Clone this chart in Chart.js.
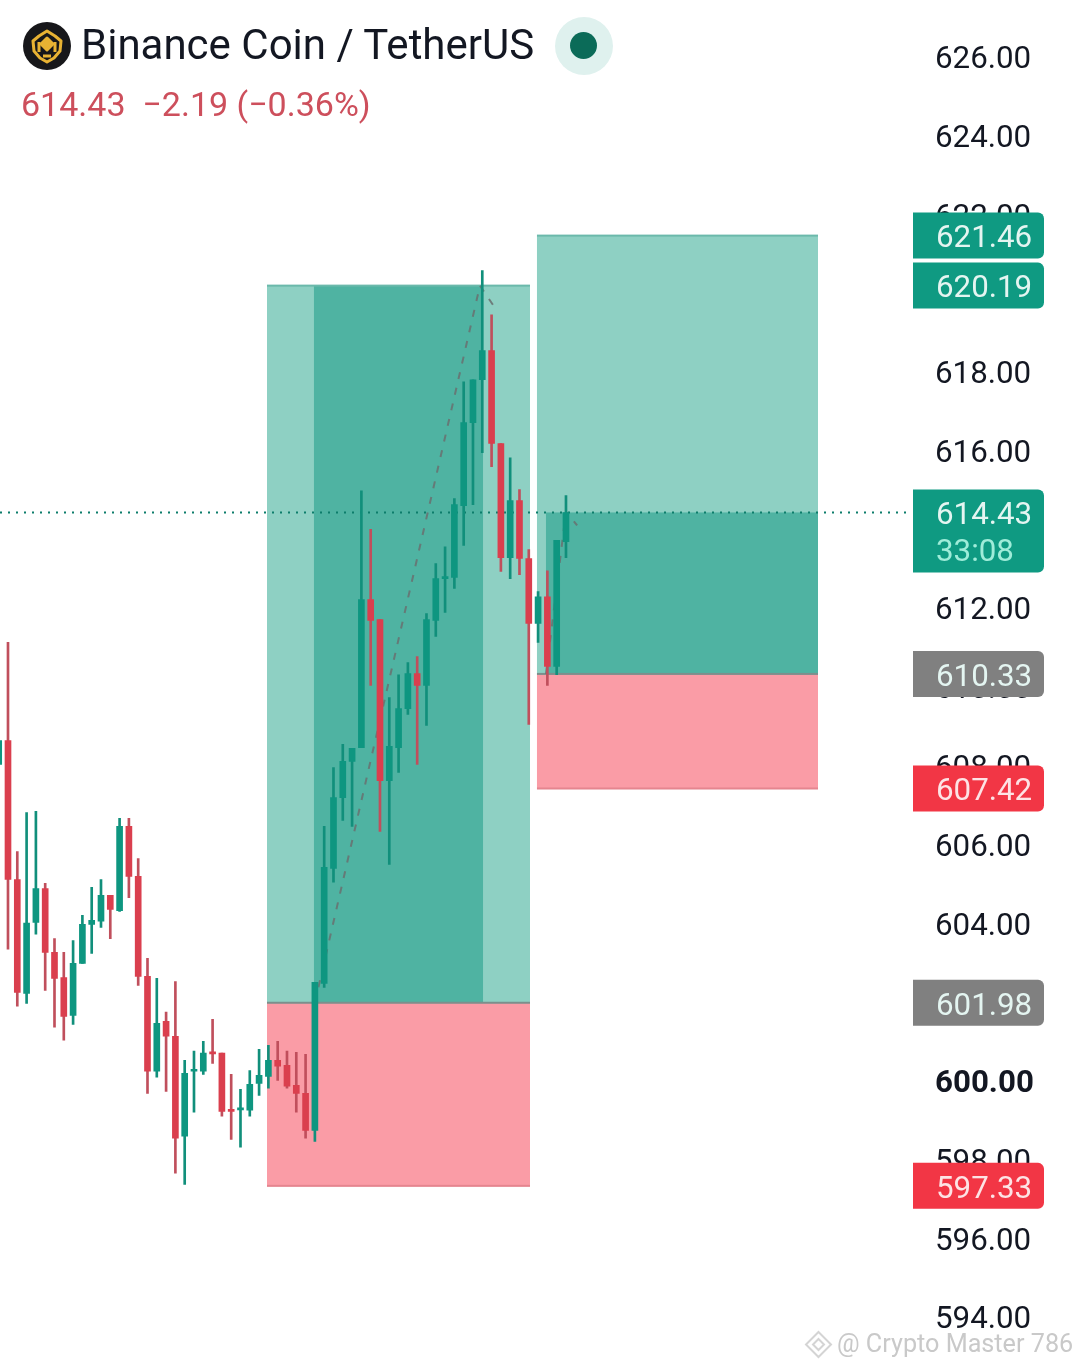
<!DOCTYPE html>
<html lang="en">
<head>
    <meta charset="UTF-8">
    <title>Binance Coin / TetherUS</title>
    <script src="https://cdn.jsdelivr.net/npm/chart.js@4/dist/chart.umd.min.js"></script>
    <style>
        html, body { margin: 0; padding: 0; background: #fff; }
        body { width: 1080px; height: 1368px; position: relative; overflow: hidden; font-family: Roboto, sans-serif; }
        #wrap { position: absolute; left: 0; top: 0; width: 1080px; height: 1368px; }
        .abs { position: absolute; white-space: pre; }
        #title { left: 81px; top: 21px; font-size: 42px; line-height: 48px; color: #131722; }
        #quote { left: 21px; top: 84px; font-size: 34px; line-height: 40px; color: #cd4f5c; }
        #mark { left: 837px; top: 1329px; font-size: 25.2px; line-height: 30px; color: #c9c9c9; }
        #status { left: 555px; top: 17px; width: 58px; height: 58px; border-radius: 50%; background: #dff1ee; }
        #status div { position: absolute; left: 15px; top: 15px; width: 27px; height: 27px; border-radius: 50%; background: #0b6b58; }
    </style>
</head>
<body>
    <div id="wrap"><canvas id="chart" width="1080" height="1368"></canvas></div>

    <svg class="abs" style="left:23px;top:22px" width="48" height="48" viewBox="0 0 48 48">
        <circle cx="24" cy="24" r="24" fill="#17171a"/>
        <g fill="none" stroke="#e8b233" stroke-width="3" stroke-linejoin="round">
            <path d="M24 9 L32 14 L38 19 L37 29 L31 36 L24 40 L17 36 L11 29 L10 19 L16 14 Z"/>
            <path d="M24 16 L30 22 L24 28 L18 22 Z" fill="#e8b233"/>
            <path d="M16 20 L16 30 M32 20 L32 30 M20 34 L28 34"/>
        </g>
    </svg>
    <div id="title" class="abs">Binance Coin / TetherUS</div>
    <div id="status" class="abs"><div></div></div>
    <div id="quote" class="abs">614.43  −2.19 (−0.36%)</div>

    <svg class="abs" style="left:804px;top:1330px" width="29" height="29" viewBox="0 0 29 29">
        <g fill="none" stroke="#d4d4d4" stroke-width="2">
            <path d="M14.5 2 L27 14.5 L14.5 27 L2 14.5 Z"/>
            <path d="M14.5 9 L20 14.5 L14.5 20 L9 14.5 Z"/>
        </g>
    </svg>
    <div id="mark" class="abs">@ Crypto Master 786</div>

    <script>
        // candles, first one sits just past the left edge
        const opens = [608.03, 608.64, 605.11, 602.22, 604.02, 604.88, 603.26, 602.62, 601.66, 602.98, 603.97, 604.05, 604.71, 604.32, 606.46, 605.19, 602.65, 600.24, 601.51, 601.13, 598.59, 600.24, 600.24, 600.72, 600.70, 599.25, 599.26, 599.25, 599.93, 600.11, 600.52, 600.39, 599.88, 599.68, 598.74, 602.47, 605.39, 607.19, 608.11, 608.46, 612.22, 611.71, 607.62, 608.46, 609.45, 610.34, 610.04, 611.69, 612.75, 612.78, 614.60, 616.71, 617.80, 618.54, 616.18, 613.28, 614.73, 613.26, 611.61, 612.29, 610.52, 613.69];
        const highs = [608.64, 611.13, 605.82, 606.81, 606.84, 605.01, 603.61, 603.26, 603.56, 604.20, 604.91, 605.11, 604.71, 606.66, 606.66, 605.64, 603.11, 602.60, 601.74, 602.52, 600.52, 600.75, 601.00, 601.56, 600.70, 600.16, 599.78, 600.26, 600.80, 600.90, 601.00, 600.75, 600.72, 600.67, 602.50, 606.46, 607.95, 608.54, 608.44, 614.98, 614.00, 611.71, 609.73, 610.31, 610.62, 610.77, 611.86, 613.13, 613.56, 614.78, 617.75, 617.80, 620.57, 619.45, 616.18, 615.82, 615.01, 613.49, 612.42, 612.95, 613.72, 614.86];
        const lows = [608.03, 603.34, 601.89, 601.96, 603.72, 602.29, 601.36, 601.03, 601.43, 602.98, 603.23, 603.89, 603.61, 604.30, 604.65, 602.42, 599.68, 600.09, 599.73, 597.65, 597.37, 599.20, 600.16, 600.44, 599.10, 598.51, 598.31, 599.10, 599.63, 599.81, 600.01, 599.81, 599.20, 598.54, 598.46, 602.37, 605.04, 606.61, 606.46, 608.46, 610.04, 606.33, 605.49, 607.83, 609.30, 608.03, 609.02, 611.28, 611.89, 612.50, 613.59, 614.63, 615.95, 615.59, 612.93, 612.75, 612.85, 609.05, 611.13, 610.04, 610.31, 613.28];
        const closes = [608.64, 605.11, 602.24, 604.00, 604.88, 603.26, 602.60, 601.63, 602.98, 603.97, 604.07, 604.71, 604.35, 606.46, 605.19, 602.65, 600.24, 601.46, 601.13, 598.54, 600.19, 600.26, 600.70, 600.68, 599.22, 599.22, 599.29, 599.91, 600.14, 600.52, 600.37, 599.86, 599.68, 598.74, 602.50, 605.42, 607.19, 608.11, 608.44, 612.22, 611.69, 607.62, 608.49, 609.45, 610.34, 610.04, 611.71, 612.75, 612.80, 614.63, 616.71, 617.80, 618.54, 616.18, 613.28, 614.73, 613.26, 611.61, 612.29, 610.52, 613.72, 614.43];

        const yTicks = [626, 624, 622, 620, 618, 616, 614, 612, 610, 608, 606, 604, 602, 600, 598, 596, 594];
        const lastPrice = 614.43;
        // price range of the axis, the scale keeps some room above and below for its labels
        const yMax = 626.458;
        const yMin = 593.69;

        // position tools: bar positions (from, to) and prices (top, entry, bottom)
        const longA = { x: [27.85, 56.13], darkX: [32.9, 51.08], top: 620.19, entry: 601.98, stop: 597.33, darkTop: 620.19, darkBottom: 601.98 };
        const longB = { x: [56.88, 87.1], darkX: [57.85, 87.1], top: 621.46, entry: 610.33, stop: 607.42, darkTop: 614.43, darkBottom: 610.33 };

        const swingX = [33, 50.75, 52.15];
        const swingY = [601.98, 620.19, 619.7];
        const swing2X = [57.85, 60, 61.2];
        const swing2Y = [610.33, 614.45, 614.1];

        const tagPrices = [621.46, 620.19, 614.43, 610.33, 607.42, 601.98, 597.33];
        const tagColors = ['#0f9a82', '#0f9a82', '#0f9a82', '#808080', '#f23645', '#808080', '#f23645'];
        const countdown = '33:08';

        const UP = '#0e9680';
        const DOWN = '#da3f4e';
        const UP_WICK = '#118f7b';
        const DOWN_WICK = '#c04f5c';

        const candleColor = opens.map((o, i) => closes[i] >= o ? UP : DOWN);
        const wickColor = opens.map((o, i) => closes[i] >= o ? UP_WICK : DOWN_WICK);

        const zones = {
            id: 'zones',
            beforeDatasetsDraw(chart) {
                const { ctx, scales: { x, y } } = chart;
                [longA, longB].forEach(z => {
                    const left = x.getPixelForValue(z.x[0]);
                    const right = x.getPixelForValue(z.x[1]);
                    const top = y.getPixelForValue(z.top);
                    const mid = y.getPixelForValue(z.entry);
                    const bottom = y.getPixelForValue(z.stop);
                    ctx.fillStyle = '#8ed0c3';
                    ctx.fillRect(left, top, right - left, mid - top);
                    ctx.fillStyle = '#fa9ca6';
                    ctx.fillRect(left, mid, right - left, bottom - mid);
                    const dl = x.getPixelForValue(z.darkX[0]);
                    const dr = x.getPixelForValue(z.darkX[1]);
                    const dt = y.getPixelForValue(z.darkTop);
                    const db = y.getPixelForValue(z.darkBottom);
                    ctx.fillStyle = '#4fb3a2';
                    ctx.fillRect(dl, dt, dr - dl, db - dt);
                    // edges
                    ctx.fillStyle = '#6bb9ab';
                    ctx.fillRect(left, top - 1, right - left, 2);
                    ctx.fillStyle = '#7b8f8c';
                    ctx.fillRect(left, mid - 1, right - left, 2);
                    ctx.fillStyle = '#e5858f';
                    ctx.fillRect(left, bottom - 1, right - left, 2);
                });
            }
        };

        const priceTags = {
            id: 'priceTags',
            afterDraw(chart) {
                const { ctx, scales: { y } } = chart;
                ctx.save();
                ctx.textBaseline = 'middle';
                ctx.textAlign = 'left';
                ctx.font = '31.3px Roboto';
                tagPrices.forEach((p, i) => {
                    const yc = y.getPixelForValue(p);
                    const isLast = p === lastPrice;
                    const h = isLast ? 83 : 46;
                    const top = yc - 23;
                    ctx.fillStyle = tagColors[i];
                    ctx.beginPath();
                    ctx.roundRect(913, top, 131, h, [0, 6, 6, 0]);
                    ctx.fill();
                    ctx.fillStyle = tagColors[i] === '#f23645' ? '#fde3e5' : '#e4f5f1';
                    ctx.fillText(p.toFixed(2), 936, yc + 4);
                    if (isLast) {
                        ctx.fillStyle = '#9fecd9';
                        ctx.fillText(countdown, 936, yc + 41);
                    }
                });
                ctx.restore();
            }
        };

        const ids = opens.map((_, i) => i - 1);

        new Chart(document.getElementById('chart'), {
            data: {
                datasets: [
                    {
                        type: 'bar',
                        label: 'body',
                        order: 1,
                        data: ids.map((x, i) => ({ x, y: [opens[i], closes[i]] })),
                        backgroundColor: candleColor,
                        barThickness: 6,
                        minBarLength: 2,
                        grouped: false
                    },
                    {
                        type: 'bar',
                        label: 'wick',
                        order: 2,
                        data: ids.map((x, i) => ({ x, y: [lows[i], highs[i]] })),
                        backgroundColor: wickColor,
                        barThickness: 2,
                        grouped: false
                    },
                    {
                        type: 'line',
                        label: 'swing',
                        order: 3,
                        data: swingX.map((x, i) => ({ x, y: swingY[i] })),
                        borderColor: 'rgba(105,112,112,0.85)',
                        borderWidth: 2,
                        borderDash: [7, 9],
                        pointRadius: 0,
                        tension: 0
                    },
                    {
                        type: 'line',
                        label: 'swing2',
                        order: 3,
                        data: swing2X.map((x, i) => ({ x, y: swing2Y[i] })),
                        borderColor: 'rgba(105,112,112,0.85)',
                        borderWidth: 2,
                        borderDash: [7, 9],
                        pointRadius: 0,
                        tension: 0
                    },
                    {
                        type: 'line',
                        label: 'last',
                        order: 3,
                        data: [{ x: -0.86, y: lastPrice }, { x: 96.67, y: lastPrice }],
                        borderColor: '#0c7d6b',
                        borderWidth: 2,
                        borderDash: [2, 6],
                        pointRadius: 0
                    }
                ]
            },
            options: {
                responsive: false,
                animation: false,
                events: [],
                layout: { padding: 0, autoPadding: false },
                plugins: { legend: { display: false }, tooltip: { enabled: false } },
                scales: {
                    x: {
                        type: 'linear',
                        min: -0.86,
                        max: 96.67,
                        display: false,
                        offset: false
                    },
                    y: {
                        position: 'right',
                        min: yMin,
                        max: yMax,
                        grid: { display: false },
                        border: { display: false },
                        afterFit(scale) { scale.width = 173; },
                        afterBuildTicks(scale) { scale.ticks = yTicks.map(value => ({ value })); },
                        ticks: {
                            autoSkip: false,
                            padding: 20,
                            labelOffset: 3.5,
                            crossAlign: 'near',
                            color: '#131722',
                            font: ctx => ({
                                family: 'Roboto',
                                size: 31.3,
                                weight: ctx.tick && ctx.tick.value === 600 ? 'bold' : 'normal'
                            }),
                            callback: v => Number(v).toFixed(2)
                        }
                    }
                }
            },
            plugins: [zones, priceTags]
        });
    </script>
</body>
</html>
